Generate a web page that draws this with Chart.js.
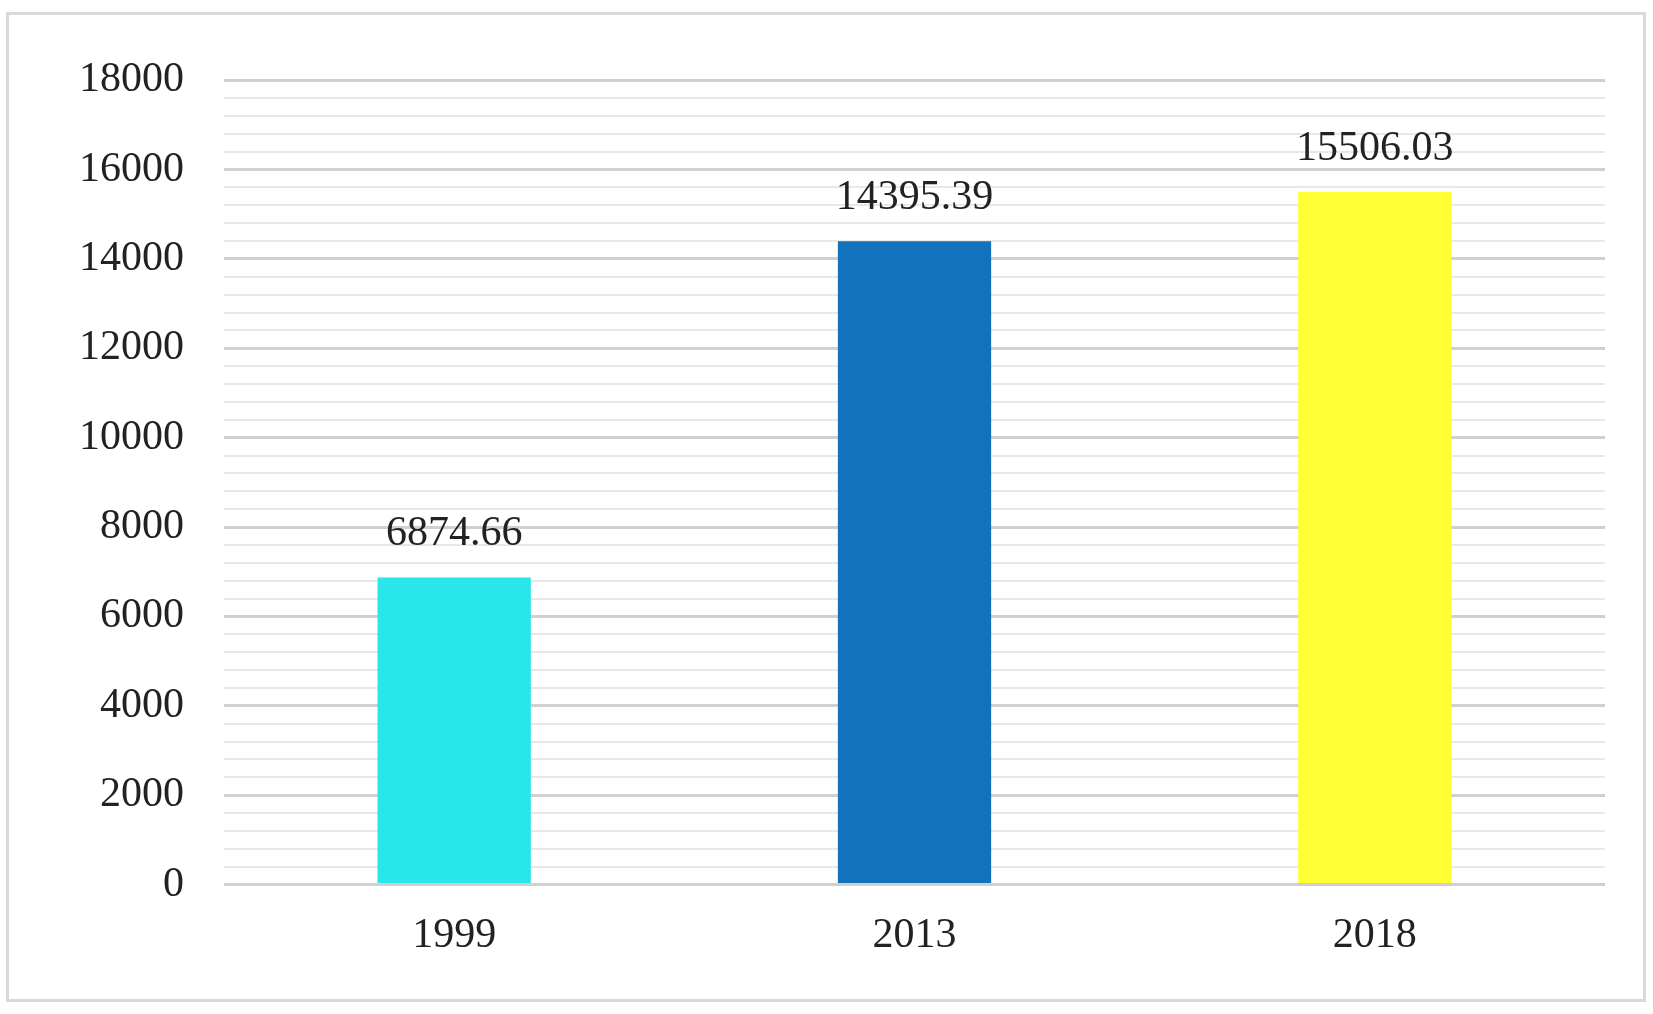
<!DOCTYPE html>
<html><head><meta charset="utf-8">
<script src="https://cdn.jsdelivr.net/npm/chart.js@4"></script>
<style>html,body{margin:0;padding:0;background:#fff}
#wrap{position:absolute;left:6px;top:12px;width:1640px;height:990px;border:3px solid #d9d9d9;box-sizing:border-box}
canvas{position:absolute;left:0;top:0}</style></head>
<body><div id="wrap"><canvas id="c" width="1634" height="984"></canvas></div>
<script>
const categories = ['1999','2013','2018'];
const values = [6874.66, 14395.39, 15506.03];
const colors = ['#29E6EA','#1372BC','#FFFF33'];
const yTicks = [0,2000,4000,6000,8000,10000,12000,14000,16000,18000];

const labelPlugin = {
  id:'lbl',
  afterDatasetsDraw(chart){
    const ctx=chart.ctx;
    ctx.save();
    ctx.font='42px "Liberation Serif"';
    ctx.fillStyle='#222';
    ctx.textAlign='center';ctx.textBaseline='bottom';
    chart.getDatasetMeta(0).data.forEach((b,i)=>{
      ctx.fillText(values[i].toFixed(2), b.x, b.y-22);
    });
    ctx.restore();
  }
};
new Chart(document.getElementById('c'),{
  type:'bar',
  data:{labels:categories,datasets:[{data:values,backgroundColor:colors,barPercentage:0.333,categoryPercentage:1}]},
  options:{
    responsive:false,animation:false,
    layout:{padding:{left:30,right:38,top:30,bottom:20}},
    plugins:{legend:{display:false},tooltip:{enabled:false}},
    scales:{
      x:{grid:{display:false},border:{display:false},
         ticks:{color:'#222',font:{family:'Liberation Serif',size:42},padding:18}},
      y:{min:0,max:18000,
         afterBuildTicks(ax){const t=[];for(let v=0;v<=18000;v+=400)t.push({value:v});ax.ticks=t;},
         ticks:{autoSkip:false,color:'#222',font:{family:'Liberation Serif',size:42},padding:40,
           callback:v=>yTicks.includes(v)?String(v):''},
         border:{display:false},
         grid:{drawTicks:false,color:c=>c.tick&&c.tick.value%2000===0?'#d0d0d0':'#e8e8e8',
           lineWidth:c=>c.tick&&c.tick.value%2000===0?3:2}}
    }
  },
  plugins:[labelPlugin]
});
</script></body></html>
